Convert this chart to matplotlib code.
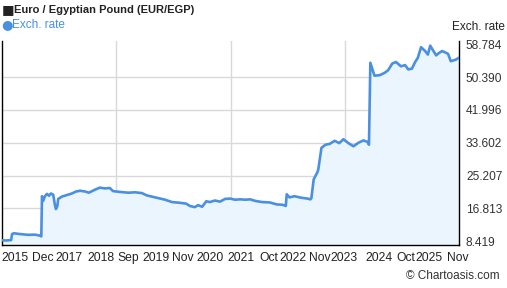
import matplotlib
matplotlib.use("Agg")
import matplotlib.pyplot as plt

plt.rcParams['font.family'] = ['Liberation Sans', 'DejaVu Sans']

title = "Euro / Egyptian Pound (EUR/EGP)"
series_name = "Exch. rate"
y_ticks = [8.419, 16.813, 25.207, 33.602, 41.996, 50.390, 58.784]
y_tick_labels = ["8.419", "16.813", "25.207", "33.602", "41.996", "50.390", "58.784"]
x_labels = ["2015", "Dec", "2017", "2018", "Sep", "2019", "Nov", "2020", "2021",
            "Oct", "2022", "Nov", "2023", "2024", "Oct", "2025", "Nov"]

# decimal years
years = [2015.86, 2015.95, 2016.06, 2016.08, 2016.12, 2016.25, 2016.43, 2016.58, 2016.69,
         2016.72, 2016.735, 2016.76, 2016.80, 2016.845, 2016.89, 2016.93, 2016.98, 2017.02,
         2017.04, 2017.07, 2017.09, 2017.17, 2017.28, 2017.39, 2017.48, 2017.57, 2017.68,
         2017.76, 2017.90, 2018.00, 2018.11, 2018.22, 2018.29, 2018.44, 2018.62, 2018.77,
         2018.92, 2019.03, 2019.21, 2019.43, 2019.58, 2019.76, 2019.89, 2019.97, 2020.08,
         2020.15, 2020.24, 2020.33, 2020.41, 2020.52, 2020.63, 2020.74, 2020.85, 2020.96,
         2021.07, 2021.18, 2021.29, 2021.40, 2021.55, 2021.72, 2021.87, 2022.00, 2022.07,
         2022.09, 2022.15, 2022.26, 2022.41, 2022.54, 2022.61, 2022.63, 2022.68, 2022.76,
         2022.78, 2022.85, 2022.94, 2023.03, 2023.14, 2023.24, 2023.33, 2023.44, 2023.55,
         2023.66, 2023.77, 2023.86, 2023.89, 2023.92, 2024.01, 2024.12, 2024.23, 2024.31,
         2024.40, 2024.48, 2024.59, 2024.68, 2024.75, 2024.83, 2024.90, 2024.96, 2025.03,
         2025.12, 2025.18, 2025.23, 2025.27, 2025.36, 2025.42, 2025.49, 2025.55, 2025.62,
         2025.68, 2025.79, 2025.86]
rates = [8.6, 8.55, 8.65, 10.2, 10.4, 10.2, 10.0, 10.05, 9.8,
         9.6, 19.9, 18.7, 19.9, 20.5, 20.0, 20.6, 20.3, 17.5,
         16.6, 17.3, 19.2, 19.8, 20.2, 20.6, 21.1, 21.3, 21.1,
         20.8, 21.6, 22.1, 21.9, 22.0, 21.2, 21.0, 20.8, 20.9,
         20.7, 20.1, 19.6, 19.0, 18.4, 18.2, 18.0, 17.4, 17.1,
         17.6, 17.2, 18.6, 18.4, 18.8, 18.5, 19.2, 19.3, 19.0,
         19.1, 19.0, 19.1, 18.7, 18.4, 18.3, 17.8, 17.7, 17.4,
         20.4, 19.6, 19.9, 19.5, 19.3, 19.1, 19.4, 24.2, 26.0,
         26.7, 32.3, 33.1, 33.3, 34.1, 33.5, 34.5, 33.5, 32.7,
         33.6, 34.2, 33.8, 33.1, 54.1, 50.8, 50.9, 51.5, 52.2,
         53.9, 54.3, 53.2, 53.5, 52.4, 52.6, 54.3, 55.4, 58.1,
         57.1, 56.2, 58.5, 57.7, 56.0, 56.6, 57.1, 56.8, 56.4,
         54.5, 54.9, 55.4]

W, H = 507, 288
fig = plt.figure(figsize=(W / 100, H / 100), dpi=100)
L, R, T, B = 2, 459, 41, 245
ax = fig.add_axes([L / W, 1 - B / H, (R - L) / W, (B - T) / H])

line_c = "#4a90e2"
ax.fill_between(years, rates, 0, color="#ebf5fe", zorder=1)
ax.plot(years, rates, color=line_c, lw=1.9, zorder=3)

ax.set_xlim(years[0], years[-1])
px = 8.394 / 32.75
ax.set_ylim(y_ticks[0] - 4 * px, y_ticks[-1] + 3.5 * px)

span = years[-1] - years[0]
for q in (0.25, 0.5, 0.75):
    ax.axvline(years[0] + q * span, color="#d9d9d9", lw=1, zorder=0)
for v in y_ticks[1:-1]:
    ax.axhline(v, color="#d9d9d9", lw=1, zorder=0)

ax.yaxis.tick_right()
ax.set_yticks(y_ticks)
ax.set_yticklabels(y_tick_labels)
ax.tick_params(axis='y', length=0, pad=5, labelsize=8.6, labelcolor="#333333")
ax.set_xticks([])
for s in ("left", "bottom", "right"):
    ax.spines[s].set_color("black")
    ax.spines[s].set_linewidth(1.0)
ax.spines["top"].set_visible(False)

# x labels (pixel layout)
x_pos = [1, 32, 55, 87, 117, 142, 172, 196, 227, 259, 279, 309, 330, 365, 396, 415, 447]
for lbl, xp in zip(x_labels, x_pos):
    fig.text(xp / W, 1 - 258 / H, lbl, ha="left", va="center", fontsize=8.7, color="#222222")

# Title / legend
fig.text(2 / W, 1 - 10 / H, "\u25A0", ha="left", va="center", fontsize=9.5, color="#222222",
         family=["DejaVu Sans"])
fig.text(14 / W, 1 - 10 / H, title, ha="left", va="center", fontsize=8.0, fontweight="bold",
         color="#222222")
fig.text(1 / W, 1 - 25 / H, "\u25CF", ha="left", va="center", fontsize=9.5, color=line_c,
         family=["DejaVu Sans"])
fig.text(12 / W, 1 - 25 / H, series_name, ha="left", va="center", fontsize=8.5, color=line_c)
fig.text(505 / W, 1 - 27 / H, series_name, ha="right", va="center", fontsize=8.5, color="#222222")
fig.text(500 / W, 1 - 276 / H, "\u00A9 Chartoasis.com", ha="right", va="center", fontsize=8.5,
         color="#333333")

fig.savefig("out.png", dpi=100)
